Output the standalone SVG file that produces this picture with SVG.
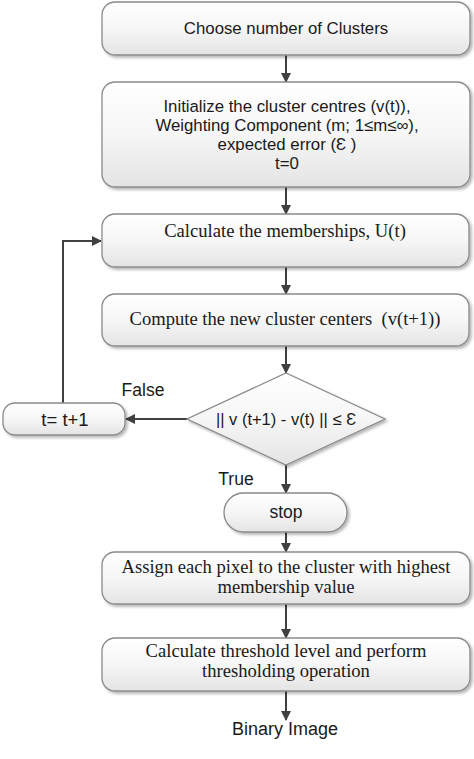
<svg xmlns="http://www.w3.org/2000/svg" width="474" height="759" viewBox="0 0 474 759">
<defs>
<linearGradient id="g" x1="0" y1="0" x2="0" y2="1">
<stop offset="0" stop-color="#ffffff"/>
<stop offset="0.5" stop-color="#f6f6f6"/>
<stop offset="1" stop-color="#e4e4e4"/>
</linearGradient>
<marker id="ah" markerWidth="10" markerHeight="10" refX="9" refY="5" orient="auto" markerUnits="userSpaceOnUse">
<path d="M0,0 L10,5 L0,10 Z" fill="#404040"/>
</marker>
<filter id="sh" x="-5%" y="-10%" width="115%" height="130%">
<feGaussianBlur in="SourceAlpha" stdDeviation="1.5"/>
<feOffset dx="1.5" dy="2" result="b"/>
<feComponentTransfer><feFuncA type="linear" slope="0.3"/></feComponentTransfer>
<feMerge><feMergeNode/><feMergeNode in="SourceGraphic"/></feMerge>
</filter>
</defs>
<style>
.box{fill:url(#g);stroke:#8a8a8a;stroke-width:1.3;filter:url(#sh)}
.s{font-family:"Liberation Sans",Arial,sans-serif;font-size:17.5px;fill:#1a1a1a;text-anchor:middle}
.m{font-size:16.8px}
.r{font-family:"Liberation Serif","Times New Roman",serif;font-size:18.6px;fill:#1a1a1a;text-anchor:middle}
.c{stroke:#404040;stroke-width:2;fill:none;marker-end:url(#ah)}
</style>
<rect width="474" height="759" fill="#ffffff"/>
<g id="connectors">
<line class="c" x1="286" y1="55" x2="286" y2="82"/>
<line class="c" x1="286" y1="187" x2="286" y2="214"/>
<line class="c" x1="286" y1="267" x2="286" y2="294"/>
<line class="c" x1="286" y1="346" x2="286" y2="373"/>
<line class="c" x1="187" y1="419" x2="126" y2="419"/>
<polyline class="c" points="63,403 63,241 101,241"/>
<line class="c" x1="286" y1="465" x2="286" y2="493"/>
<line class="c" x1="286" y1="532" x2="286" y2="552"/>
<line class="c" x1="286" y1="604" x2="286" y2="638"/>
<line class="c" x1="286" y1="691" x2="286" y2="720"/>
</g>
<g id="n1">
<rect class="box" x="102" y="2" width="368" height="53" rx="13"/>
<text class="s m" x="286" y="34">Choose number of Clusters</text>
</g>
<g id="n2">
<rect class="box" x="102" y="82" width="368" height="105" rx="13"/>
<text class="s m" x="287" y="112">Initialize the cluster centres (v(t)),</text>
<text class="s m" x="287" y="131">Weighting Component (m; 1≤m≤∞),</text>
<text class="s m" x="287" y="150">expected error (Ɛ )</text>
<text class="s m" x="287" y="169">t=0</text>
</g>
<g id="n3">
<rect class="box" x="102" y="214" width="367" height="53" rx="13"/>
<text class="r" x="285" y="237">Calculate the memberships, U(t)</text>
</g>
<g id="n4">
<rect class="box" x="102" y="294" width="367" height="52" rx="13"/>
<text class="r" x="285" y="325">Compute the new cluster centers&#160; (v(t+1))</text>
</g>
<g id="n5">
<polygon class="box" points="286,373 385,419 286,465 187,419"/>
<text class="s" x="286" y="425" style="font-size:16.5px">|| v (t+1) - v(t) || ≤ Ɛ</text>
</g>
<g id="n6">
<rect class="box" x="3" y="403" width="122" height="32" rx="12"/>
<text class="s" x="65" y="426" style="font-size:18.5px">t= t+1</text>
</g>
<text class="s" x="143" y="396">False</text>
<text class="s" x="236" y="485">True</text>
<g id="n7">
<rect class="box" x="224" y="493" width="123" height="39" rx="19.5"/>
<text class="s" x="286" y="518">stop</text>
</g>
<g id="n8">
<rect class="box" x="102" y="552" width="368" height="52" rx="13"/>
<text class="r" x="286" y="573">Assign each pixel to the cluster with highest</text>
<text class="r" x="286" y="593">membership value</text>
</g>
<g id="n9">
<rect class="box" x="102" y="638" width="368" height="53" rx="13"/>
<text class="r" x="286" y="657">Calculate threshold level and perform</text>
<text class="r" x="286" y="677">thresholding operation</text>
</g>
<text class="s" x="285" y="735" style="font-size:18px">Binary Image</text>
</svg>
